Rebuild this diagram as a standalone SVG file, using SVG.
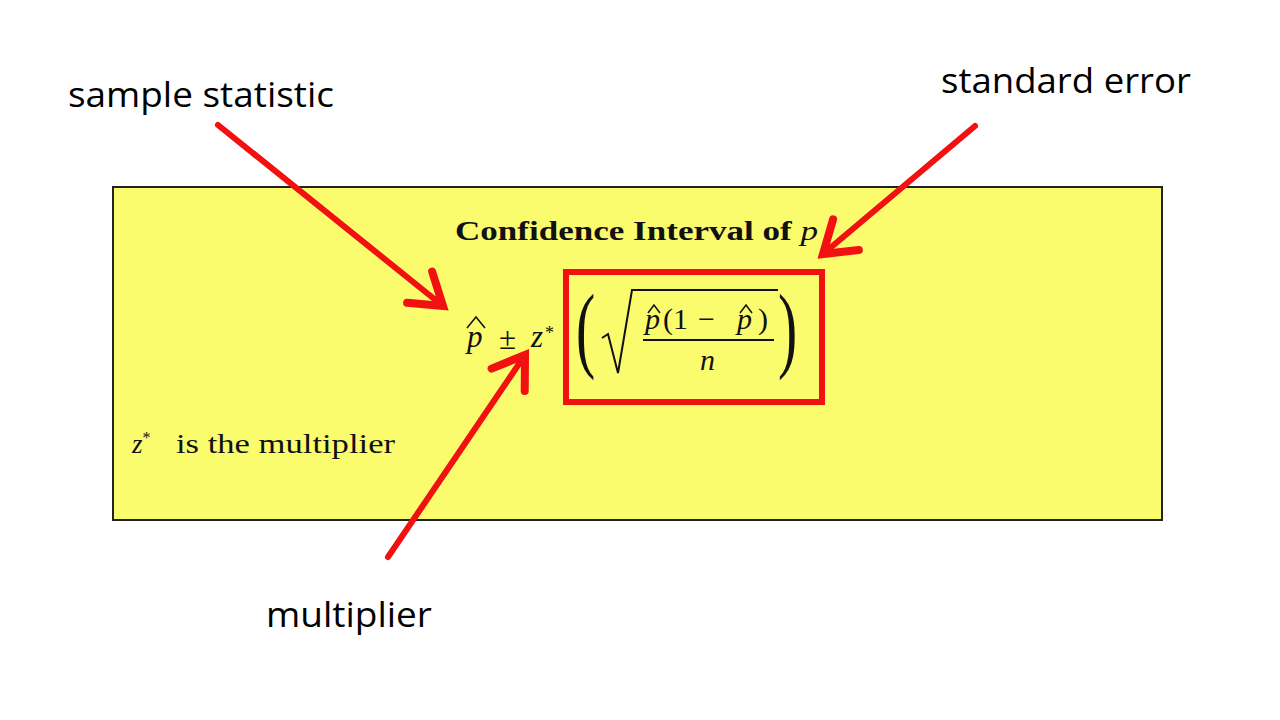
<svg xmlns="http://www.w3.org/2000/svg" width="1280" height="720" viewBox="0 0 1280 720">
<style>
.lbl{font-family:"Open Sans",Lato,sans-serif;font-size:34px;fill:#000}
.ser{font-family:"Liberation Serif",serif;fill:#111}
.arrow{stroke:#f21010;stroke-width:6;fill:none;stroke-linecap:round}
.hat{fill:none;stroke:#111;stroke-width:1.5}
</style>
<defs>
<marker id="chev" markerUnits="userSpaceOnUse" markerWidth="60" markerHeight="60" refX="0" refY="0" viewBox="-40 -30 60 60" orient="auto" overflow="visible">
<path d="M-30,-20 L0,0 L-30,20" fill="none" stroke="#f21010" stroke-width="8" stroke-linecap="round" stroke-linejoin="miter"/>
</marker>
</defs>
<rect width="1280" height="720" fill="#fff"/>
<g id="panel">
<rect x="113" y="187" width="1049" height="333" fill="#fbfb6e" stroke="#222" stroke-width="2"/>
<text class="ser" x="455" y="240" font-size="28" font-weight="bold" textLength="363" lengthAdjust="spacingAndGlyphs">Confidence Interval of <tspan font-style="italic" font-weight="normal">p</tspan></text>
</g>
<g id="formula" class="ser">
<text x="467" y="347" font-size="31" font-style="italic">p</text>
<path class="hat" d="M467,328 L476,317 L485,328"/>
<text x="499" y="349" font-size="31">±</text>
<text x="531" y="347" font-size="31" font-style="italic">z</text>
<text x="545" y="339" font-size="18">*</text>
<text x="0" y="0" font-size="96" transform="translate(576,360) scale(0.6,1)">(</text>
<path d="M602,338 L608,334 L618,373 L632,290 L778,290" fill="none" stroke="#111" stroke-width="2"/>
<text y="329" font-size="30"><tspan x="645" font-style="italic">p</tspan><tspan x="663">(1</tspan><tspan x="698">−</tspan><tspan x="737" font-style="italic">p</tspan><tspan x="758">)</tspan></text>
<path class="hat" d="M648,313 L654,305 L660,313 M740,313 L746,305 L752,313"/>
<line x1="643" y1="340" x2="774" y2="340" stroke="#111" stroke-width="1.8"/>
<text x="700" y="370" font-size="30" font-style="italic">n</text>
<text x="0" y="0" font-size="96" transform="translate(778,360) scale(0.6,1)">)</text>
</g>
<g id="se-box">
<rect x="566" y="272" width="256" height="130" fill="none" stroke="#f21010" stroke-width="6"/>
</g>
<g id="note">
<text class="ser" x="132" y="453" font-size="27"><tspan font-style="italic">z</tspan><tspan font-size="16" dy="-10">*</tspan></text>
<text class="ser" x="176" y="453" font-size="27" textLength="219" lengthAdjust="spacingAndGlyphs">is the multiplier</text>
</g>
<g id="label-sample"><text class="lbl" x="68" y="107" textLength="266" lengthAdjust="spacingAndGlyphs">sample statistic</text></g>
<g id="label-se"><text class="lbl" x="941" y="93" textLength="250" lengthAdjust="spacingAndGlyphs">standard error</text></g>
<g id="label-mult"><text class="lbl" x="266" y="627" textLength="166" lengthAdjust="spacingAndGlyphs">multiplier</text></g>
<g id="connectors">
<line class="arrow" x1="218" y1="125" x2="443" y2="306" marker-end="url(#chev)"/>
<line class="arrow" x1="975" y1="126" x2="823" y2="254" marker-end="url(#chev)"/>
<line class="arrow" x1="388" y1="557" x2="525" y2="355" marker-end="url(#chev)"/>
</g>
</svg>
